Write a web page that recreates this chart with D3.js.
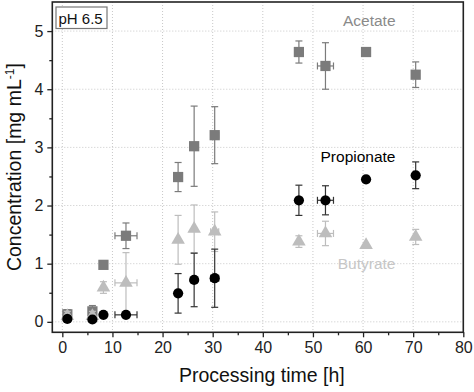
<!DOCTYPE html>
<html>
<head>
<meta charset="utf-8">
<script src="https://cdn.jsdelivr.net/npm/d3@7"></script>
<style>
  body { margin: 0; background: #fff; }
  text { font-family: "Liberation Sans", Arial, sans-serif; }
</style>
</head>
<body>
<div id="chart"></div>
<script>
// processing time [h] and its horizontal error
const time = [1, 6, 8.2, 12.7, 23.1, 26.3, 30.4, 47.2, 52.5, 60.6, 70.5];
const timeErr = [0, 0, 0, 2.2, 0, 0, 0.8, 0, 1.6, 0, 0];

const acetate = [0.13, 0.18, 0.98, 1.48, 2.49, 3.02, 3.21, 4.64, 4.40, 4.64, 4.25];
const acetateErr = [0.08, 0.1, 0, 0.22, 0.25, 0.69, 0.49, 0.19, 0.40, 0, 0.22];
const propionate = [0.05, 0.04, 0.12, 0.12, 0.49, 0.72, 0.75, 2.09, 2.09, 2.45, 2.52];
const propionateErr = [0.03, 0.03, 0, 0, 0.34, 0.46, 0.5, 0.26, 0.25, 0, 0.23];
const butyrate = [0.1, 0.1, 0.59, 0.67, 1.41, 1.60, 1.55, 1.38, 1.52, 1.32, 1.46];
const butyrateErr = [0.08, 0.08, 0.1, 0.52, 0.42, 0.41, 0.34, 0.1, 0.21, 0, 0.13];

const xTicks = [0, 10, 20, 30, 40, 50, 60, 70, 80];
const yTicks = [0, 1, 2, 3, 4, 5];

const W = 474, H = 392;
const margin = { top: 2, right: 10.7, bottom: 59.7, left: 52.3 };
const width = W - margin.left - margin.right;
const height = H - margin.top - margin.bottom;

const svg = d3.select('#chart').append('svg')
  .attr('width', W).attr('height', H);
const g = svg.append('g')
  .attr('transform', `translate(${margin.left},${margin.top})`);

const x = d3.scaleLinear().domain([-2, 80]).range([0, width]);
const y = d3.scaleLinear().domain([-0.18, 5.5]).range([height, 0]);

// grid
g.append('g').selectAll('line').data(xTicks.slice(0, -1)).join('line')
  .attr('x1', d => x(d)).attr('x2', d => x(d))
  .attr('y1', 0).attr('y2', height)
  .attr('stroke', '#c8c8c8').attr('stroke-dasharray', '1,2');
g.append('g').selectAll('line').data(yTicks).join('line')
  .attr('x1', 0).attr('x2', width)
  .attr('y1', d => y(d)).attr('y2', d => y(d))
  .attr('stroke', '#c8c8c8').attr('stroke-dasharray', '1,2');

// axes
g.append('g').attr('transform', `translate(0,${height})`)
  .call(d3.axisBottom(x).tickValues(xTicks).tickFormat(d3.format('d')).tickSize(5).tickPadding(4));
g.append('g').attr('transform', `translate(0,${height})`)
  .call(d3.axisBottom(x).tickValues(d3.range(5, 80, 10)).tickSize(3).tickFormat(''));
g.append('g')
  .call(d3.axisLeft(y).tickValues(yTicks).tickFormat(d3.format('d')).tickSize(5).tickPadding(4));
g.append('g')
  .call(d3.axisLeft(y).tickValues(d3.range(0.5, 5.5, 1)).tickSize(3).tickFormat(''));
g.selectAll('.domain').remove();
g.selectAll('.tick line').attr('stroke', '#222').attr('stroke-width', 1.3);
g.selectAll('.tick text').attr('font-size', 16).attr('fill', '#222')
  .attr('font-family', '"Liberation Sans", Arial, sans-serif');

// frame
g.append('rect').attr('width', width).attr('height', height)
  .attr('fill', 'none').attr('stroke', '#222').attr('stroke-width', 1.6);

const series = [
  { name: 'Acetate', vals: acetate, err: acetateErr, color: '#7b7b7b', sym: d3.symbolSquare, size: 105 },
  { name: 'Butyrate', vals: butyrate, err: butyrateErr, color: '#bdbdbd', sym: d3.symbolTriangle, size: 80 },
  { name: 'Propionate', vals: propionate, err: propionateErr, color: '#000', sym: d3.symbolCircle, size: 82 }
];

const cap = 3.5;
series.forEach(s => {
  const pts = time.map((t, i) => ({ t, te: timeErr[i], v: s.vals[i], e: s.err[i] }));
  const eg = g.append('g').attr('stroke', s.name === 'Propionate' ? '#333' : s.color).attr('stroke-width', 1.2);
  pts.filter(d => d.e > 0).forEach(d => {
    eg.append('line').attr('x1', x(d.t)).attr('x2', x(d.t)).attr('y1', y(d.v - d.e)).attr('y2', y(d.v + d.e));
    eg.append('line').attr('x1', x(d.t) - cap).attr('x2', x(d.t) + cap).attr('y1', y(d.v - d.e)).attr('y2', y(d.v - d.e));
    eg.append('line').attr('x1', x(d.t) - cap).attr('x2', x(d.t) + cap).attr('y1', y(d.v + d.e)).attr('y2', y(d.v + d.e));
  });
  pts.filter(d => d.te > 0).forEach(d => {
    eg.append('line').attr('x1', x(d.t - d.te)).attr('x2', x(d.t + d.te)).attr('y1', y(d.v)).attr('y2', y(d.v));
    eg.append('line').attr('x1', x(d.t - d.te)).attr('x2', x(d.t - d.te)).attr('y1', y(d.v) - cap).attr('y2', y(d.v) + cap);
    eg.append('line').attr('x1', x(d.t + d.te)).attr('x2', x(d.t + d.te)).attr('y1', y(d.v) - cap).attr('y2', y(d.v) + cap);
  });
  g.append('g').selectAll('path').data(pts).join('path')
    .attr('transform', d => `translate(${x(d.t)},${y(d.v)})`)
    .attr('d', d3.symbol(s.sym, s.size))
    .attr('fill', s.color);
});

// series labels
const labels = [
  { text: 'Acetate', y: 26, color: '#8a8a8a' },
  { text: 'Propionate', y: 162.3, color: '#000' },
  { text: 'Butyrate', y: 269.3, color: '#c6c6c6' }
];
labels.forEach(l => {
  svg.append('text').attr('x', 395.5).attr('y', l.y).attr('text-anchor', 'end')
    .attr('font-size', 15.5).attr('fill', l.color).text(l.text);
});

// pH box
svg.append('rect').attr('x', 56).attr('y', 7).attr('width', 51).attr('height', 21.5)
  .attr('fill', '#fff').attr('stroke', '#777').attr('stroke-width', 1.2);
svg.append('text').attr('x', 58.5).attr('y', 23.5).attr('font-size', 15).attr('fill', '#111').text('pH 6.5');

// axis titles
svg.append('text').attr('x', margin.left + x(40) - 1).attr('y', 382)
  .attr('text-anchor', 'middle').attr('font-size', 19.5).attr('fill', '#111')
  .text('Processing time [h]');
const yt = svg.append('text')
  .attr('transform', `translate(21,${margin.top + height / 2}) rotate(-90)`)
  .attr('text-anchor', 'middle').attr('font-size', 19.5).attr('fill', '#111');
yt.append('tspan').text('Concentration [mg mL');
yt.append('tspan').attr('dy', -7).attr('font-size', 12).text('-1');
yt.append('tspan').attr('dy', 7).text(']');
</script>
</body>
</html>
